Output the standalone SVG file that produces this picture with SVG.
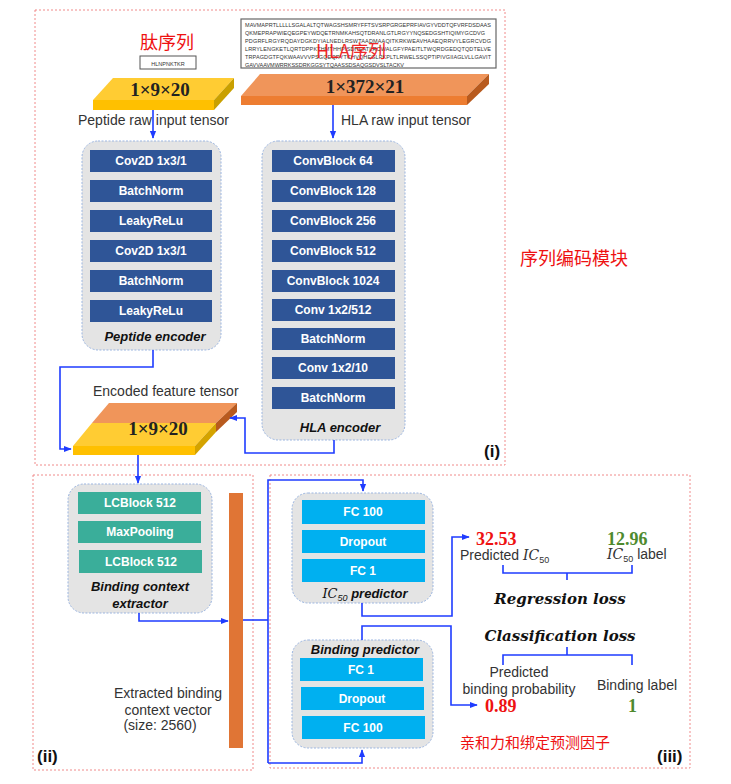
<svg xmlns="http://www.w3.org/2000/svg" width="731" height="784" viewBox="0 0 731 784">
<defs>
<marker id="ah" viewBox="0 0 10 10" refX="9" refY="5" markerWidth="5" markerHeight="5" orient="auto"><path d="M0,1 L10,5 L0,9 z" fill="#1f3cff"/></marker>
<style>
.sec{fill:none;stroke:#f08a8a;stroke-dasharray:2,2;stroke-width:1}
.panel{fill:#e4e4e4;stroke:#9bb5e0;stroke-dasharray:2,1.5;stroke-width:1}
.b1{fill:#2F5597}.b2{fill:#3AAE9A}.b3{fill:#00B0F0}
.bt{font-family:"Liberation Sans",sans-serif;font-size:12px;font-weight:bold;fill:#fff;text-anchor:middle}
.lab{font-family:"Liberation Sans",sans-serif;font-size:14px;fill:#333}
.ttl{font-family:"Liberation Sans",sans-serif;font-size:13px;font-weight:bold;font-style:italic;fill:#111;text-anchor:middle}
.loss{font-family:"DejaVu Serif",serif;font-size:15px;font-weight:bold;font-style:italic;fill:#111;text-anchor:middle}
.num{font-family:"Liberation Serif",serif;font-size:18px;font-weight:bold}
.dim{font-family:"Liberation Serif",serif;font-size:19px;font-weight:bold;fill:#222;text-anchor:middle}
.cn{font-family:"Noto Sans CJK SC",sans-serif;fill:#ee1111}
.con{fill:none;stroke:#1f3cff;stroke-width:1.6}
.seq{font-family:"Liberation Sans",sans-serif;font-size:5.5px;fill:#333}
.tag{font-family:"Liberation Sans",sans-serif;font-size:17px;font-weight:bold;fill:#111}
</style>
</defs>
<rect width="731" height="784" fill="#fff"/>
<rect class="sec" x="35" y="10" width="470" height="455"/>
<rect class="sec" x="33" y="475" width="220" height="295"/>
<rect class="sec" x="270" y="475" width="420" height="293"/>

<g id="peptide-input">
<text class="cn" x="140" y="49" font-size="18">肽序列</text>
<rect x="140" y="56" width="56" height="13" fill="#fff" stroke="#555"/>
<text x="168" y="65.5" font-family="Liberation Sans,sans-serif" font-size="5.5" fill="#333" text-anchor="middle">HLNPNKTKR</text>
<polygon points="113,78 234,78 214,100 93,100" fill="#FFCC33"/>
<rect x="93" y="100" width="121" height="10" fill="#FFC000"/>
<polygon points="214,100 234,78 234,88 214,110" fill="#C9A000"/>
<text class="dim" x="160" y="96">1×9×20</text>
<text class="lab" x="78" y="125">Peptide raw input tensor</text>
</g>

<g id="hla-input">
<rect x="241" y="19" width="255" height="49" fill="#fff" stroke="#666" stroke-width="1.2"/>
<text class="seq" x="245" y="27" textLength="246">MAVMAPRTLLLLLSGALALTQTWAGSHSMRYFFTSVSRPGRGEPRFIAVGYVDDTQFVRFDSDAAS</text>
<text class="seq" x="245" y="35" textLength="240">QKMEPRAPWIEQEGPEYWDQETRNMKAHSQTDRANLGTLRGYYNQSEDGSHTIQIMYGCDVG</text>
<text class="seq" x="245" y="43" textLength="246">PDGRFLRGYRQDAYDGKDYIALNEDLRSWTAADMAAQITKRKWEAVHAAEQRRVYLEGRCVDG</text>
<text class="seq" x="245" y="51" textLength="246">LRRYLENGKETLQRTDPPKTHMTHHPISDHEATLRCWALGFYPAEITLTWQRDGEDQTQDTELVE</text>
<text class="seq" x="245" y="59" textLength="246">TRPAGDGTFQKWAAVVVPSGQEQRYTCHVQHEGLPKPLTLRWELSSQPTIPIVGIIAGLVLLGAVIT</text>
<text class="seq" x="245" y="67">GAVVAAVMWRRKSSDRKGGSYTQAASSDSAQGSDVSLTACKV</text>
<text class="cn" x="316" y="58" font-size="18" opacity="0.9">HLA序列</text>
<polygon points="260,74 489,74 467,96 241,96" fill="#F0955A"/>
<rect x="241" y="96" width="226" height="9" fill="#ED7D31"/>
<polygon points="467,96 489,74 489,84 467,105" fill="#B85A1E"/>
<text class="dim" x="365" y="93">1×372×21</text>
<text class="lab" x="341" y="125">HLA raw input tensor</text>
</g>

<g id="peptide-encoder">
<rect class="panel" x="82" y="141" width="139" height="209" rx="16"/>
<rect class="b1" x="90" y="150" width="122" height="22"/><text class="bt" x="151" y="165">Cov2D  1x3/1</text>
<rect class="b1" x="90" y="180" width="122" height="22"/><text class="bt" x="151" y="195">BatchNorm</text>
<rect class="b1" x="90" y="210" width="122" height="22"/><text class="bt" x="151" y="225">LeakyReLu</text>
<rect class="b1" x="90" y="240" width="122" height="22"/><text class="bt" x="151" y="255">Cov2D  1x3/1</text>
<rect class="b1" x="90" y="270" width="122" height="22"/><text class="bt" x="151" y="285">BatchNorm</text>
<rect class="b1" x="90" y="300" width="122" height="22"/><text class="bt" x="151" y="315">LeakyReLu</text>
<text class="ttl" x="155" y="341">Peptide encoder</text>
</g>

<g id="hla-encoder">
<rect class="panel" x="262" y="141" width="143" height="299" rx="16"/>
<rect class="b1" x="272" y="150" width="123" height="22"/><text class="bt" x="333" y="165">ConvBlock 64</text>
<rect class="b1" x="272" y="180" width="123" height="22"/><text class="bt" x="333" y="195">ConvBlock 128</text>
<rect class="b1" x="272" y="210" width="123" height="22"/><text class="bt" x="333" y="225">ConvBlock 256</text>
<rect class="b1" x="272" y="240" width="123" height="22"/><text class="bt" x="333" y="255">ConvBlock 512</text>
<rect class="b1" x="272" y="270" width="123" height="22"/><text class="bt" x="333" y="285">ConvBlock 1024</text>
<rect class="b1" x="272" y="299" width="123" height="22"/><text class="bt" x="333" y="314">Conv  1x2/512</text>
<rect class="b1" x="272" y="328" width="123" height="22"/><text class="bt" x="333" y="343">BatchNorm</text>
<rect class="b1" x="272" y="357" width="123" height="22"/><text class="bt" x="333" y="372">Conv   1x2/10</text>
<rect class="b1" x="272" y="387" width="123" height="22"/><text class="bt" x="333" y="402">BatchNorm</text>
<text class="ttl" x="340" y="432">HLA encoder</text>
</g>

<g id="encoded-tensor">
<text class="lab" x="93" y="396">Encoded feature tensor</text>
<polygon points="109,403 237,403 216,423 92,423" fill="#F0955A"/>
<polygon points="92,423 216,423 195,446 73,446" fill="#FFCC33"/>
<rect x="73" y="446" width="122" height="9" fill="#FFC000"/>
<polygon points="216,423 237,403 237,412 216,432" fill="#B85A1E"/>
<polygon points="195,446 216,423 216,432 195,455" fill="#D4A300"/>
<text class="dim" x="158" y="435">1×9×20</text>
</g>
<text class="tag" x="484" y="457">(i)</text>
<text class="cn" x="520" y="265" font-size="18">序列编码模块</text>

<g id="binding-context-extractor">
<rect class="panel" x="68" y="484" width="144" height="129" rx="16"/>
<rect class="b2" x="78" y="492" width="123" height="22"/><text class="bt" x="140" y="507">LCBlock 512</text>
<rect class="b2" x="78" y="521" width="123" height="22"/><text class="bt" x="140" y="536">MaxPooling</text>
<rect class="b2" x="79" y="550" width="123" height="23"/><text class="bt" x="141" y="566">LCBlock 512</text>
<text class="ttl" x="140" y="591">Binding context</text>
<text class="ttl" x="140" y="608">extractor</text>
</g>

<g id="context-vector">
<rect x="229" y="493" width="14" height="255" fill="#E07535"/>
<text class="lab" x="168" y="698" text-anchor="middle">Extracted binding</text>
<text class="lab" x="168" y="715" text-anchor="middle">context vector</text>
<text class="lab" x="160" y="730" text-anchor="middle">(size: 2560)</text>
</g>
<text class="tag" x="37" y="762">(ii)</text>

<g id="ic50-predictor">
<rect class="panel" x="292" y="493" width="141" height="110" rx="16"/>
<rect class="b3" x="302" y="500" width="123" height="24"/><text class="bt" x="363" y="516">FC 100</text>
<rect class="b3" x="302" y="530" width="123" height="23"/><text class="bt" x="363" y="546">Dropout</text>
<rect class="b3" x="302" y="559" width="123" height="23"/><text class="bt" x="363" y="575">FC 1</text>
<text class="ttl" x="365" y="598"><tspan font-family="DejaVu Serif,serif" font-weight="normal">IC</tspan><tspan font-size="9" dy="3" font-weight="normal">50</tspan><tspan dy="-3"> predictor</tspan></text>
</g>

<g id="binding-predictor">
<rect class="panel" x="292" y="640" width="141" height="108" rx="16"/>
<text class="ttl" x="365" y="654">Binding predictor</text>
<rect class="b3" x="300" y="658" width="123" height="23"/><text class="bt" x="361" y="674">FC 1</text>
<rect class="b3" x="301" y="687" width="123" height="23"/><text class="bt" x="362" y="703">Dropout</text>
<rect class="b3" x="302" y="716" width="123" height="23"/><text class="bt" x="363" y="732">FC 100</text>
</g>

<g id="losses">
<text class="num" x="476" y="545" fill="#ee1111">32.53</text>
<text class="lab" x="460" y="560">Predicted <tspan font-family="DejaVu Serif,serif" font-style="italic">IC</tspan><tspan font-size="9" dy="3">50</tspan></text>
<text class="num" x="607" y="545" fill="#4e8a2e">12.96</text>
<text class="lab" x="607" y="559"><tspan font-family="DejaVu Serif,serif" font-style="italic">IC</tspan><tspan font-size="9" dy="3">50</tspan><tspan dy="-3"> label</tspan></text>
<path class="con" d="M503,565 V573 H632 V565 M567,573 V580"/>
<text class="loss" x="560" y="604">Regression loss</text>
<text class="loss" x="560" y="641">Classification loss</text>
<path class="con" d="M567,647 V655 M503,665 V655 H632 V665"/>
<text class="lab" x="519" y="677" text-anchor="middle">Predicted</text>
<text class="lab" x="519" y="694" text-anchor="middle">binding probability</text>
<text class="lab" x="637" y="690" text-anchor="middle">Binding label</text>
<text class="num" x="485" y="712" fill="#ee1111">0.89</text>
<text class="num" x="628" y="712" fill="#4e8a2e">1</text>
<text class="cn" x="460" y="748" font-size="15">亲和力和绑定预测因子</text>
</g>
<text class="tag" x="657" y="762">(iii)</text>

<g id="connectors">
<path class="con" d="M153,110 V138" marker-end="url(#ah)"/>
<path class="con" d="M333,105 V138" marker-end="url(#ah)"/>
<path class="con" d="M153,350 V367 H60 V449 H71" marker-end="url(#ah)"/>
<path class="con" d="M334,440 V453 H245 V418 H230" marker-end="url(#ah)"/>
<path class="con" d="M138,455 V483" marker-end="url(#ah)"/>
<path class="con" d="M139,613 V621 H228" marker-end="url(#ah)"/>
<path class="con" d="M243,620 H268"/>
<path class="con" d="M268,763 V480 H363 V491" marker-end="url(#ah)"/>
<path class="con" d="M268,763 H362 V750" marker-end="url(#ah)"/>
<path class="con" d="M362,603 V616 H452 V537 H469" marker-end="url(#ah)"/>
<path class="con" d="M362,640 V626 H451 V705 H477" marker-end="url(#ah)"/>
</g>
</svg>
